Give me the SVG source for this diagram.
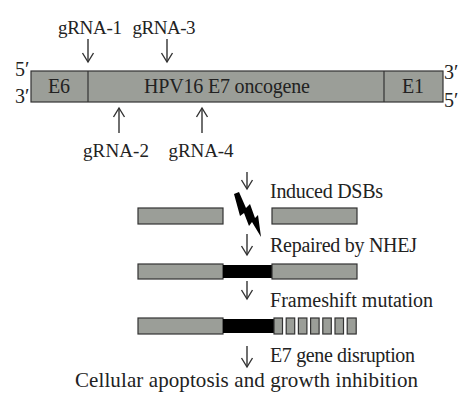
<svg xmlns="http://www.w3.org/2000/svg" width="474" height="413" viewBox="0 0 474 413">
<defs>
<style>
text{font-family:"Liberation Serif","Times New Roman",serif;font-size:20px;fill:#222;}
.m{text-anchor:middle;}
.g{font-size:19px;}
.bar{fill:#9b9e98;stroke:#333;stroke-width:1.2;}
.blk{fill:#000;}
.arr{stroke:#333;stroke-width:1.4;fill:none;marker-end:url(#ah);}
</style>
<marker id="ah" viewBox="0 0 14 14" refX="12" refY="7" markerWidth="14" markerHeight="14" markerUnits="userSpaceOnUse" orient="auto">
<path d="M3,1.5 L12,7 L3,12.5" fill="none" stroke="#333" stroke-width="1.4"/>
</marker>
</defs>
<rect width="474" height="413" fill="#fff"/>

<g id="gene">
<rect class="bar" x="31" y="71" width="412" height="31"/>
<line x1="88" y1="71" x2="88" y2="102" stroke="#333" stroke-width="1.2"/>
<line x1="384" y1="71" x2="384" y2="102" stroke="#333" stroke-width="1.2"/>
<text class="m" x="59" y="93">E6</text>
<text class="m" x="227" y="93" textLength="166" lengthAdjust="spacing">HPV16 E7 oncogene</text>
<text class="m" x="413" y="93">E1</text>
</g>

<g id="ends">
<text x="15" y="76">5′</text>
<text x="15" y="103">3′</text>
<text x="444" y="79">3′</text>
<text x="444" y="107">5′</text>
</g>

<g id="grnas">
<text class="m g" x="90" y="34" textLength="64" lengthAdjust="spacing">gRNA-1</text>
<text class="m g" x="164" y="34" textLength="63" lengthAdjust="spacing">gRNA-3</text>
<text class="m g" x="116" y="157" textLength="66" lengthAdjust="spacing">gRNA-2</text>
<text class="m g" x="201" y="157" textLength="65" lengthAdjust="spacing">gRNA-4</text>
</g>

<g id="connectors">
<line class="arr" x1="88" y1="39" x2="88" y2="62"/>
<line class="arr" x1="167" y1="39" x2="167" y2="62"/>
<line class="arr" x1="119" y1="133" x2="119" y2="108"/>
<line class="arr" x1="202" y1="133" x2="202" y2="108"/>
<line class="arr" x1="247" y1="172" x2="247" y2="189"/>
<line class="arr" x1="247" y1="234" x2="247" y2="255"/>
<line class="arr" x1="247" y1="281" x2="247" y2="299"/>
<line class="arr" x1="247" y1="346" x2="247" y2="367"/>
</g>

<g id="step1">
<polygon class="blk" points="234,194 239,192 246,208 250,204 255,218 258,215 261,237 252,222 249,226 244,213 240,216"/>
<text x="270" y="198" textLength="113" lengthAdjust="spacing">Induced DSBs</text>
<rect class="bar" x="138" y="208" width="85" height="16"/>
<rect class="bar" x="272" y="208" width="85" height="16"/>
</g>

<g id="step2">
<text x="270" y="252" textLength="147" lengthAdjust="spacing">Repaired by NHEJ</text>
<rect class="bar" x="138" y="264" width="85" height="15"/>
<rect class="blk" x="223" y="265" width="49" height="13"/>
<rect class="bar" x="272" y="264" width="85" height="15"/>
</g>

<g id="step3">
<text x="270" y="307" textLength="163" lengthAdjust="spacing">Frameshift mutation</text>
<rect class="bar" x="138" y="318" width="85" height="16"/>
<rect class="blk" x="223" y="319" width="51" height="14"/>
<rect class="bar" x="274" y="318" width="8.5" height="16"/>
<rect class="bar" x="286.2" y="318" width="8.5" height="16"/>
<rect class="bar" x="298.4" y="318" width="8.5" height="16"/>
<rect class="bar" x="310.6" y="318" width="8.5" height="16"/>
<rect class="bar" x="322.8" y="318" width="8.5" height="16"/>
<rect class="bar" x="335" y="318" width="8.5" height="16"/>
<rect class="bar" x="347.2" y="318" width="9" height="16"/>
</g>

<g id="step4">
<text x="270" y="362" textLength="145" lengthAdjust="spacing">E7 gene disruption</text>
<text class="m" x="246.5" y="387" style="font-size:21px" textLength="343" lengthAdjust="spacing">Cellular apoptosis and growth inhibition</text>
</g>
</svg>
